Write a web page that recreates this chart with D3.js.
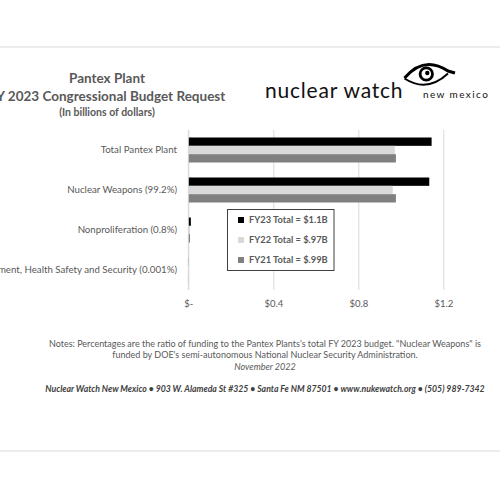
<!DOCTYPE html>
<html>
<head>
<meta charset="utf-8">
<script src="https://cdn.jsdelivr.net/npm/d3@7"></script>
<style>
  body { margin: 0; background: #fff; }
  text { font-family: Lato, "Open Sans", sans-serif; }
</style>
</head>
<body>
<div id="wrapper"></div>
<script>
// data (billions of dollars)
const categories = [
  "Total Pantex Plant",
  "Nuclear Weapons (99.2%)",
  "Nonproliferation (0.8%)",
  "Environment, Health Safety and Security (0.001%)"
]
const seriesNames = ["FY23", "FY22", "FY21"]
const fy23 = [1.145, 1.134, 0.012, 0.002]
const fy22 = [0.972, 0.962, 0.008, 0.002]
const fy21 = [0.977, 0.977, 0.008, 0.002]
const legendLabels = ["FY23 Total = $1.1B", "FY22 Total = $.97B", "FY21 Total = $.99B"]
const tickValues = [0, 0.4, 0.8, 1.2]
const tickLabels = ["$-", "$0.4", "$0.8", "$1.2"]

const seriesColors = { FY23: "#000000", FY22: "#d9d9d9", FY21: "#808080" }
const valuesBySeries = { FY23: fy23, FY22: fy22, FY21: fy21 }

const dimensions = { width: 500, height: 500 }

const svg = d3.select("#wrapper")
  .append("svg")
  .attr("width", dimensions.width)
  .attr("height", dimensions.height)

// thin rules top and bottom of the page
svg.selectAll(".rule")
  .data([47, 451])
  .join("line")
  .attr("x1", 0).attr("x2", dimensions.width)
  .attr("y1", d => d).attr("y2", d => d)
  .attr("stroke", "#d9d9d9")
  .attr("stroke-width", 1)

// titles
const titles = svg.append("g").attr("fill", "#595959").attr("text-anchor", "middle")
titles.append("text").attr("x", 107).attr("y", 83)
  .attr("font-size", 13.5).attr("font-weight", "bold").text("Pantex Plant")
titles.append("text").attr("x", 107).attr("y", 101)
  .attr("font-size", 13.5).attr("font-weight", "bold").text("FY 2023 Congressional Budget Request")
titles.append("text").attr("x", 107).attr("y", 116)
  .attr("font-size", 10.5).attr("font-weight", "bold").text("(In billions of dollars)")

// logo
const logo = svg.append("g")
logo.append("text").attr("x", 265).attr("y", 98)
  .attr("font-size", 21).attr("fill", "#111").attr("letter-spacing", 0.8)
  .text("nuclear watch")
logo.append("text").attr("x", 423).attr("y", 98)
  .attr("font-size", 10).attr("fill", "#111").attr("letter-spacing", 1.4)
  .text("new mexico")
logo.append("path")
  .attr("d", "M404.5,78 Q424,55 448,71 L455,73")
  .attr("fill", "none").attr("stroke", "#000").attr("stroke-width", 3)
logo.append("path")
  .attr("d", "M404.5,78.5 Q427,93 448,73.5")
  .attr("fill", "none").attr("stroke", "#000").attr("stroke-width", 2)
logo.append("circle").attr("cx", 426.3).attr("cy", 74).attr("r", 6.2)
  .attr("fill", "none").attr("stroke", "#000").attr("stroke-width", 2.8)
logo.append("circle").attr("cx", 427.3).attr("cy", 73).attr("r", 2.2).attr("fill", "#000")

// scales
const xScale = d3.scaleLinear()
  .domain([0, 1.2])
  .range([188.3, 443.3])

const yScale = d3.scaleBand()
  .domain(categories)
  .range([130, 290])
  .paddingInner(0.375)
  .paddingOuter(0.1875)

const ySub = d3.scaleBand()
  .domain(seriesNames)
  .range([0, yScale.bandwidth()])

// gridlines
const xAxisGen = d3.axisBottom(xScale)
  .tickValues(tickValues)
  .tickSize(-160)
  .tickFormat((d, i) => tickLabels[i])

const xAxis = svg.append("g")
  .attr("transform", "translate(0,290)")
  .call(xAxisGen)
xAxis.select(".domain").remove()
xAxis.selectAll(".tick line").attr("stroke", "#d9d9d9")
xAxis.selectAll(".tick text")
  .attr("fill", "#595959").attr("font-size", 9.5).attr("dy", "0.71em").attr("y", 10)
  .style("font-family", "Lato, sans-serif")

// bars
const rows = []
categories.forEach((c, i) => {
  seriesNames.forEach(s => rows.push({ category: c, series: s, value: valuesBySeries[s][i] }))
})

svg.append("g").selectAll("rect")
  .data(rows)
  .join("rect")
  .attr("x", xScale(0))
  .attr("y", d => yScale(d.category) + ySub(d.series))
  .attr("width", d => xScale(d.value) - xScale(0))
  .attr("height", ySub.bandwidth())
  .attr("fill", d => seriesColors[d.series])

// category axis line
svg.append("line")
  .attr("x1", xScale(0)).attr("x2", xScale(0))
  .attr("y1", 130).attr("y2", 290)
  .attr("stroke", "#d9d9d9")

// category labels
svg.append("g").selectAll("text")
  .data(categories)
  .join("text")
  .attr("x", 177)
  .attr("y", d => yScale(d) + yScale.bandwidth() / 2)
  .attr("dy", "0.35em")
  .attr("text-anchor", "end")
  .attr("font-size", 9.7)
  .attr("fill", "#595959")
  .text(d => d)

// legend
const legend = svg.append("g")
legend.append("rect")
  .attr("x", 227.5).attr("y", 209.5).attr("width", 106.5).attr("height", 61)
  .attr("fill", "#fff").attr("stroke", "#404040").attr("stroke-width", 1)
const legendItems = legend.selectAll(".legend-item")
  .data(seriesNames)
  .join("g")
  .attr("class", "legend-item")
  .attr("transform", (d, i) => `translate(238, ${220 + i * 20})`)
legendItems.append("rect")
  .attr("x", 0).attr("y", -3).attr("width", 6).attr("height", 6)
  .attr("fill", d => seriesColors[d])
legendItems.append("text")
  .attr("x", 11).attr("dy", "0.35em")
  .attr("font-size", 9.3).attr("font-weight", "bold").attr("fill", "#595959")
  .text((d, i) => legendLabels[i])

// notes
const notes = svg.append("g").attr("fill", "#595959").attr("text-anchor", "middle")
notes.append("text").attr("x", 265).attr("y", 347).attr("font-size", 9)
  .text("Notes: Percentages are the ratio of funding to the Pantex Plants's total FY 2023 budget.  \"Nuclear Weapons\" is")
notes.append("text").attr("x", 265).attr("y", 358).attr("font-size", 9)
  .text("funded by DOE's semi-autonomous National Nuclear Security Administration.")
notes.append("text").attr("x", 265).attr("y", 370).attr("font-size", 9).attr("font-style", "italic")
  .text("November 2022")
svg.append("text").attr("x", 265).attr("y", 392).attr("font-size", 8.7)
  .attr("text-anchor", "middle").attr("font-weight", "bold").attr("font-style", "italic")
  .attr("fill", "#404040")
  .text("Nuclear Watch New Mexico \u2022 903 W. Alameda St #325 \u2022 Santa Fe NM 87501 \u2022 www.nukewatch.org \u2022 (505) 989-7342")
</script>
</body>
</html>
